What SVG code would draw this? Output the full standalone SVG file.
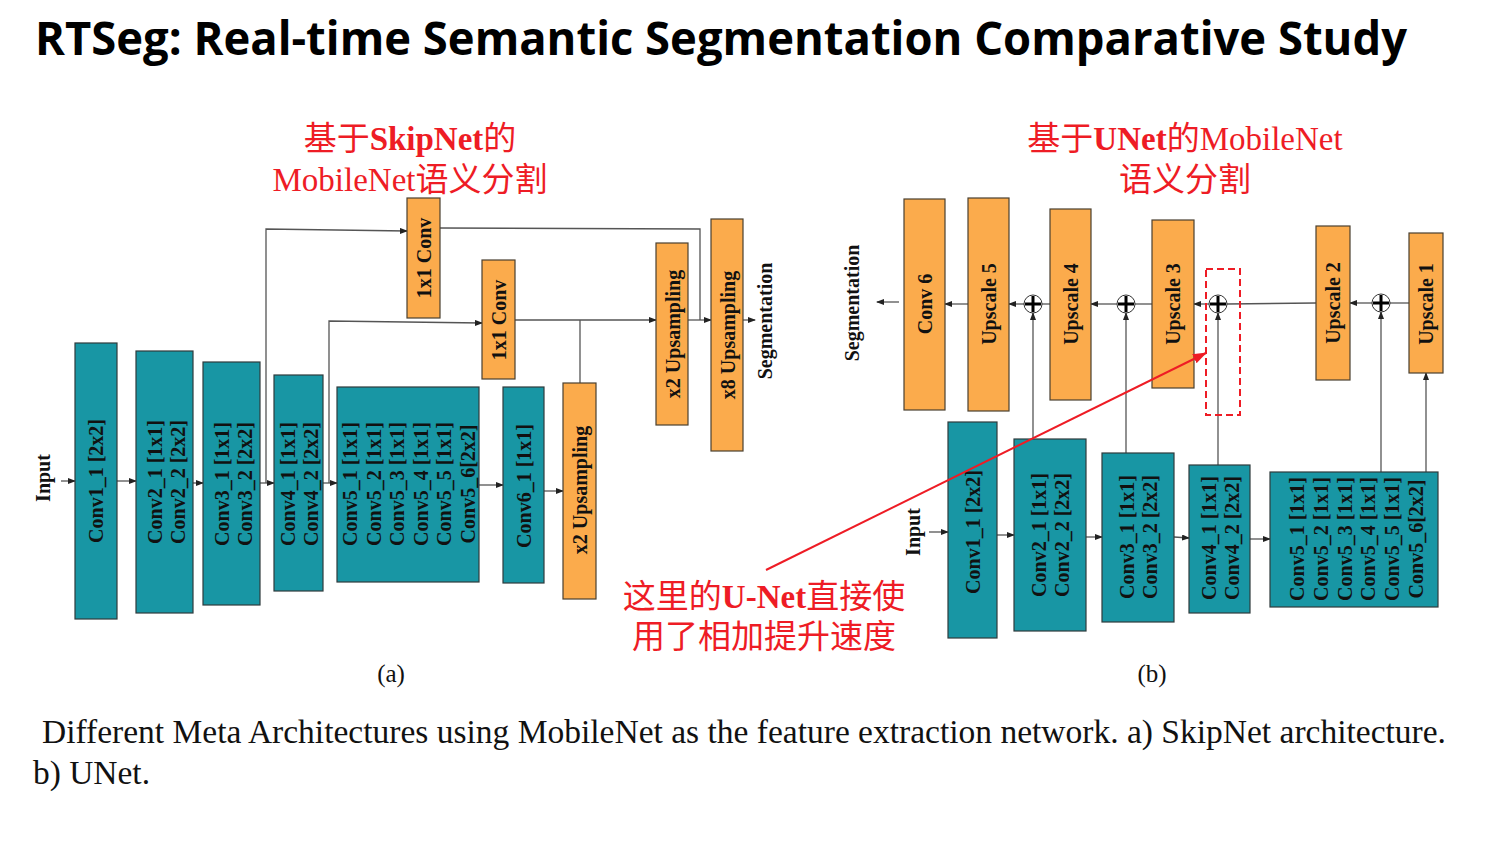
<svg xmlns="http://www.w3.org/2000/svg" width="1496" height="856" viewBox="0 0 1496 856">
<style>
.teal{fill:#1896a4;stroke:#2f3b3d;stroke-width:1.2}
.orange{fill:#fbab4c;stroke:#4a4030;stroke-width:1.2}
.lbl{font-family:"Liberation Serif","Times New Roman",serif;font-weight:bold;font-size:20px;fill:#111;text-anchor:middle;dominant-baseline:central}
.ln{fill:none;stroke:#555;stroke-width:1.3}
.arr{marker-end:url(#ah)}
.red{font-family:"Liberation Serif","Noto Sans CJK SC",serif;font-size:33px;fill:#ee1c25;text-anchor:middle}
.cap{font-family:"Liberation Serif","Times New Roman",serif;font-size:34px;fill:#111}
.sub{font-family:"Liberation Serif","Times New Roman",serif;font-size:25px;fill:#111;text-anchor:middle}
.plus{fill:#fff;stroke:#333;stroke-width:1}
.pl{stroke:#000;stroke-width:3}
</style>
<defs>
<marker id="ah" markerWidth="8" markerHeight="6" refX="7" refY="3" orient="auto" markerUnits="userSpaceOnUse">
<path d="M0,0 L8,3 L0,6 Z" fill="#222"/>
</marker>
<marker id="rah" markerWidth="14" markerHeight="10" refX="13" refY="5" orient="auto" markerUnits="userSpaceOnUse">
<path d="M0,0 L14,5 L0,10 Z" fill="#ee1c25"/>
</marker>
</defs>

<text x="35" y="55" font-family="'Open Sans','Noto Sans',sans-serif" font-weight="700" font-size="46" fill="#000" textLength="1372" lengthAdjust="spacingAndGlyphs">RTSeg: Real-time Semantic Segmentation Comparative Study</text>

<!-- connectors (a) -->
<g id="connectors-a">
<path class="ln arr" d="M61,481 L75,481"/>
<path class="ln arr" d="M117,481 L136,481"/>
<path class="ln arr" d="M193,483 L203,483"/>
<path class="ln arr" d="M260,483 L274,483"/>
<path class="ln arr" d="M266,483 L266,229 L407,231"/>
<path class="ln arr" d="M323,483 L337,483"/>
<path class="ln arr" d="M329,483 L329,321 L482,323"/>
<path class="ln arr" d="M479,485 L503,485"/>
<path class="ln arr" d="M544,491 L563,491"/>
<path class="ln arr" d="M515,320 L656,320"/>
<path class="ln" d="M580,383 L580,320"/>
<path class="ln arr" d="M688,320 L711,320"/>
<path class="ln" d="M440,228 L700,229 L700,320"/>
<path class="ln arr" d="M743,320 L755,320"/>
</g>

<!-- nodes (a) -->
<g id="a-input"><text class="lbl" transform="translate(43,478) rotate(-90)">Input</text></g>
<g id="a-conv1"><rect class="teal" x="75" y="343" width="42" height="276"/>
<text class="lbl" transform="translate(96,481) rotate(-90)">Conv1_1 [2x2]</text></g>
<g id="a-conv2"><rect class="teal" x="136" y="351" width="57" height="262"/>
<text class="lbl" transform="translate(155,482) rotate(-90)">Conv2_1 [1x1]</text>
<text class="lbl" transform="translate(178,482) rotate(-90)">Conv2_2 [2x2]</text></g>
<g id="a-conv3"><rect class="teal" x="203" y="362" width="57" height="243"/>
<text class="lbl" transform="translate(222,484) rotate(-90)">Conv3_1 [1x1]</text>
<text class="lbl" transform="translate(245,484) rotate(-90)">Conv3_2 [2x2]</text></g>
<g id="a-conv4"><rect class="teal" x="274" y="375" width="49" height="216"/>
<text class="lbl" transform="translate(288,484) rotate(-90)">Conv4_1 [1x1]</text>
<text class="lbl" transform="translate(311,484) rotate(-90)">Conv4_2 [2x2]</text></g>
<g id="a-conv5"><rect class="teal" x="337" y="387" width="142" height="195"/>
<text class="lbl" transform="translate(350,484) rotate(-90)">Conv5_1 [1x1]</text>
<text class="lbl" transform="translate(373.5,484) rotate(-90)">Conv5_2 [1x1]</text>
<text class="lbl" transform="translate(397,484) rotate(-90)">Conv5_3 [1x1]</text>
<text class="lbl" transform="translate(420.5,484) rotate(-90)">Conv5_4 [1x1]</text>
<text class="lbl" transform="translate(444,484) rotate(-90)">Conv5_5 [1x1]</text>
<text class="lbl" transform="translate(467.5,484) rotate(-90)">Conv5_6[2x2]</text></g>
<g id="a-conv6"><rect class="teal" x="503" y="387" width="41" height="196"/>
<text class="lbl" transform="translate(524,486) rotate(-90)">Conv6_1 [1x1]</text></g>
<g id="a-up2b"><rect class="orange" x="563" y="383" width="33" height="216"/>
<text class="lbl" transform="translate(580,490) rotate(-90)">x2 Upsampling</text></g>
<g id="a-conv1x1-top"><rect class="orange" x="407" y="198" width="33" height="120"/>
<text class="lbl" transform="translate(424,258) rotate(-90)">1x1 Conv</text></g>
<g id="a-conv1x1-mid"><rect class="orange" x="482" y="260" width="33" height="119"/>
<text class="lbl" transform="translate(499,320) rotate(-90)">1x1 Conv</text></g>
<g id="a-up2t"><rect class="orange" x="656" y="243" width="32" height="182"/>
<text class="lbl" transform="translate(673,334) rotate(-90)">x2 Upsampling</text></g>
<g id="a-up8"><rect class="orange" x="711" y="219" width="32" height="232"/>
<text class="lbl" transform="translate(728,335) rotate(-90)">x8 Upsampling</text></g>
<g id="a-seg"><text class="lbl" transform="translate(765,321) rotate(-90)">Segmentation</text></g>

<!-- connectors (b) -->
<g id="connectors-b">
<path class="ln arr" d="M899,302 L877,302"/>
<path class="ln arr" d="M968,304 L945,304"/>
<path class="ln arr" d="M1024,304 L1009,304"/>
<path class="ln" d="M1050,304 L1042,304"/>
<path class="ln arr" d="M1117,304 L1091,304"/>
<path class="ln" d="M1152,304 L1135,304"/>
<path class="ln arr" d="M1209,304 L1194,304"/>
<path class="ln" d="M1316,303 L1227,304"/>
<path class="ln arr" d="M1372,303 L1350,303"/>
<path class="ln" d="M1409,303 L1390,303"/>
<path class="ln arr" d="M1033,439 L1033,313"/>
<path class="ln arr" d="M1126,453 L1126,313"/>
<path class="ln arr" d="M1218,465 L1218,313"/>
<path class="ln arr" d="M1381,472 L1381,312"/>
<path class="ln arr" d="M1426,472 L1426,373"/>
<path class="ln arr" d="M929,532 L948,532"/>
<path class="ln arr" d="M997,535 L1014,535"/>
<path class="ln arr" d="M1086,537 L1102,537"/>
<path class="ln arr" d="M1174,537 L1189,538"/>
<path class="ln arr" d="M1250,539 L1270,539"/>
</g>

<!-- nodes (b) -->
<g id="b-seg"><text class="lbl" transform="translate(852,303) rotate(-90)">Segmentation</text></g>
<g id="b-conv6"><rect class="orange" x="904" y="199" width="41" height="211"/>
<text class="lbl" transform="translate(925,304) rotate(-90)">Conv 6</text></g>
<g id="b-up5"><rect class="orange" x="968" y="198" width="41" height="213"/>
<text class="lbl" transform="translate(989,304) rotate(-90)">Upscale 5</text></g>
<g id="b-add1"><circle class="plus" cx="1033" cy="304" r="9"/><path class="pl" d="M1025,304 H1041 M1033,296 V312"/></g>
<g id="b-up4"><rect class="orange" x="1050" y="209" width="41" height="191"/>
<text class="lbl" transform="translate(1071,304) rotate(-90)">Upscale 4</text></g>
<g id="b-add2"><circle class="plus" cx="1126" cy="304" r="9"/><path class="pl" d="M1118,304 H1134 M1126,296 V312"/></g>
<g id="b-up3"><rect class="orange" x="1152" y="220" width="42" height="168"/>
<text class="lbl" transform="translate(1173,304) rotate(-90)">Upscale 3</text></g>
<g id="b-add3"><circle class="plus" cx="1218" cy="304" r="9"/><path class="pl" d="M1210,304 H1226 M1218,296 V312"/></g>
<g id="b-up2"><rect class="orange" x="1316" y="226" width="34" height="154"/>
<text class="lbl" transform="translate(1333,303) rotate(-90)">Upscale 2</text></g>
<g id="b-add4"><circle class="plus" cx="1381" cy="303" r="9"/><path class="pl" d="M1373,303 H1389 M1381,295 V311"/></g>
<g id="b-up1"><rect class="orange" x="1409" y="233" width="34" height="140"/>
<text class="lbl" transform="translate(1426,304) rotate(-90)">Upscale 1</text></g>

<g id="b-input"><text class="lbl" transform="translate(913,532) rotate(-90)">Input</text></g>
<g id="b-conv1"><rect class="teal" x="948" y="422" width="49" height="216"/>
<text class="lbl" transform="translate(973,532) rotate(-90)">Conv1_1 [2x2]</text></g>
<g id="b-conv2"><rect class="teal" x="1014" y="439" width="72" height="192"/>
<text class="lbl" transform="translate(1039,535) rotate(-90)">Conv2_1 [1x1]</text>
<text class="lbl" transform="translate(1062,535) rotate(-90)">Conv2_2 [2x2]</text></g>
<g id="b-conv3"><rect class="teal" x="1102" y="453" width="72" height="169"/>
<text class="lbl" transform="translate(1127,537) rotate(-90)">Conv3_1 [1x1]</text>
<text class="lbl" transform="translate(1150,537) rotate(-90)">Conv3_2 [2x2]</text></g>
<g id="b-conv4"><rect class="teal" x="1189" y="465" width="61" height="148"/>
<text class="lbl" transform="translate(1209,538) rotate(-90)">Conv4_1 [1x1]</text>
<text class="lbl" transform="translate(1232,538) rotate(-90)">Conv4_2 [2x2]</text></g>
<g id="b-conv5"><rect class="teal" x="1270" y="472" width="168" height="135"/>
<text class="lbl" transform="translate(1297,539) rotate(-90)">Conv5_1 [1x1]</text>
<text class="lbl" transform="translate(1321,539) rotate(-90)">Conv5_2 [1x1]</text>
<text class="lbl" transform="translate(1345,539) rotate(-90)">Conv5_3 [1x1]</text>
<text class="lbl" transform="translate(1368,539) rotate(-90)">Conv5_4 [1x1]</text>
<text class="lbl" transform="translate(1392,539) rotate(-90)">Conv5_5 [1x1]</text>
<text class="lbl" transform="translate(1416,539) rotate(-90)">Conv5_6[2x2]</text></g>

<!-- annotations -->
<g id="annotations">
<rect x="1206" y="269" width="34" height="146" fill="none" stroke="#ee1c25" stroke-width="2" stroke-dasharray="7,4"/>
<path d="M766,570 L1206,353" fill="none" stroke="#ee1c25" stroke-width="2" marker-end="url(#rah)"/>
<text class="red" x="410" y="150">基于<tspan font-weight="bold">SkipNet</tspan>的</text>
<text class="red" x="410" y="191">MobileNet语义分割</text>
<text class="red" x="1185" y="150">基于<tspan font-weight="bold">UNet</tspan>的MobileNet</text>
<text class="red" x="1185" y="191">语义分割</text>
<text class="red" x="764" y="608">这里的<tspan font-weight="bold">U-Net</tspan>直接使</text>
<text class="red" x="764" y="648">用了相加提升速度</text>
</g>

<text class="sub" x="391" y="682">(a)</text>
<text class="sub" x="1152" y="682">(b)</text>

<text class="cap" x="42" y="743" textLength="1404" lengthAdjust="spacingAndGlyphs">Different Meta Architectures using MobileNet as the feature extraction network. a) SkipNet architecture.</text>
<text class="cap" x="33" y="784" textLength="117" lengthAdjust="spacingAndGlyphs">b) UNet.</text>
</svg>
